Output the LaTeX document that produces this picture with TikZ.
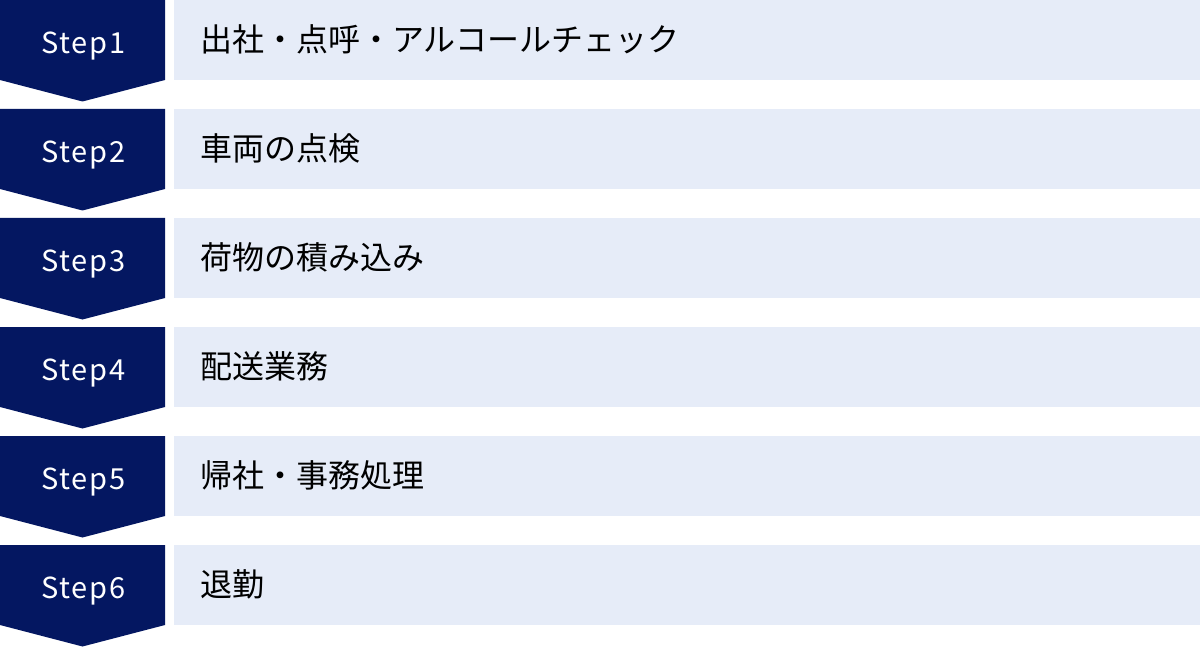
\documentclass[tikz,border=0pt]{standalone}
\usepackage{fontspec}
\setmainfont{Noto Sans}
\newfontfamily\jpfont{Noto Sans CJK JP}
\newfontfamily\stepfont[LetterSpace=6]{Noto Sans CJK JP}
\definecolor{navy}{HTML}{041761}
\definecolor{lightbar}{HTML}{E6ECF8}
\tikzset{
  stepshape/.style={fill=navy, draw=none},
  barbox/.style={fill=lightbar, draw=none},
  steplabel/.style={text=white, font=\stepfont\fontsize{29}{30}\selectfont, anchor=base, inner sep=0pt},
  itemlabel/.style={text=black, font=\jpfont\fontsize{32}{33}\selectfont, anchor=west, inner sep=0pt},
}
\begin{document}
\begin{tikzpicture}[x=1pt,y=-1pt]
\useasboundingbox (0,0) rectangle (1200,647);
\foreach \i/\t in {0/出社・点呼・アルコールチェック,1/車両の点検,2/荷物の積み込み,3/配送業務,4/帰社・事務処理,5/退勤}{
  \pgfmathsetmacro{\y}{\i*109}
  \pgfmathtruncatemacro{\n}{\i+1}
  \fill[stepshape] (0,\y) -- (165,\y) -- (165,\y+80) -- (82.5,\y+101.5) -- (0,\y+80) -- cycle;
  \fill[barbox] (174,\y) rectangle (1200,\y+80);
  \node[steplabel] (s\n) at (83.5,\y+53.3) {Step\n};
  \node[itemlabel] (t\n) at (200,\y+39.5) {\t};
}
\end{tikzpicture}
\end{document}
